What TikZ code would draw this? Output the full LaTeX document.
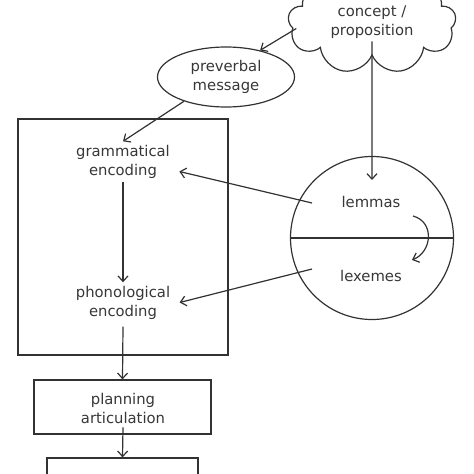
\documentclass[tikz,border=0pt]{standalone}
\usepackage{fontspec}
\setmainfont{DejaVu Sans}
\usepackage{xcolor}
\usepackage{tikz}
\usetikzlibrary{shapes,arrows.meta,positioning,calc}
\definecolor{lvlline}{RGB}{50,50,50}
\definecolor{lvltext}{RGB}{55,55,55}

\begin{document}
\begin{tikzpicture}[
    x=1pt, y=-1pt,
    txt/.style={align=center, text=lvltext, font=\fontsize{14.8pt}{19pt}\selectfont},
    box/.style={draw=lvlline, line width=1.2pt, inner sep=0pt},
    arr/.style={-{Straight Barb[length=5.5pt,width=10pt]}, draw=lvlline, line width=1.2pt}
]
    \useasboundingbox (0,0) rectangle (474,474);
    \clip (0,0) rectangle (474,474);

    % Concept
    \node[txt, cloud, cloud puffs=9, aspect=1.7, draw=lvlline, line width=1.2pt,
          minimum width=168pt, minimum height=98pt] (concept) at (372,22.5)
        {concept /\\proposition};

    % Preverbal message
    \node[txt, ellipse, box, minimum width=137pt, minimum height=60pt] (preverbal) at (226,77)
        {preverbal\\message};

    % Formulator
    \node[box, minimum width=210pt, minimum height=236pt] (formulator) at (123,237) {};
    \node[txt] (gram) at (123,161.5) {grammatical\\encoding};
    \node[txt] (phon) at (123,302.5) {phonological\\encoding};

    % Lexicon
    \node[box, circle, minimum size=163pt] (lexicon) at (372,238) {};
    \draw[lvlline, line width=1.2pt] (lexicon.west) -- (lexicon.east);
    \node[txt] (lemmas) at (371,202) {lemmas};
    \node[txt] (lexemes) at (371,276) {lexemes};

    % Articulation
    \node[box, minimum width=177pt, minimum height=54pt] (planbox) at (122.5,407) {};
    \node[txt] (plan) at (123,408.5) {planning\\articulation};
    \node[box, minimum width=151pt, minimum height=54pt] (speech) at (122.5,485) {};

    % Arrows
    \draw[arr] ($(concept.west)+(8,6)$) -- (preverbal.38);
    \draw[arr] ($(concept.south)+(0,-15)$) -- ($(lexicon.center)+(0,-58)$);
    \draw[arr] (preverbal.210) -- (gram.north);
    \draw[arr] (gram.south) -- (phon.north);
    \draw[arr] ($(lexicon.center)+(-60,-35)$) -- ($(gram.east)+(6,10)$);
    \draw[arr] ($(lexicon.center)+(-60,31)$) -- ($(phon.east)+(6,0)$);
    \draw[arr] ($(lexicon.center)+(41,-22)$) .. controls +(22,6) and +(20,-8) .. ($(lexicon.center)+(40,22)$);
    \draw[arr] ($(phon.south)+(0,4)$) -- (planbox.north);
    \draw[arr] (plan.south) -- (speech.north);
\end{tikzpicture}
\end{document}
